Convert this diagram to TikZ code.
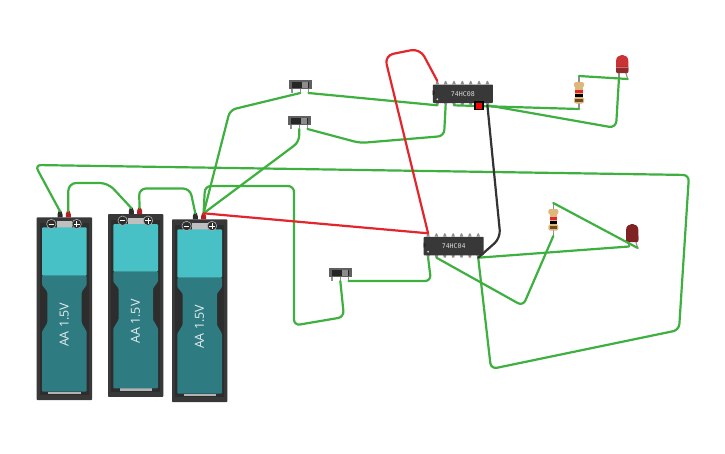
\documentclass[tikz,border=0pt]{standalone}
\usepackage{fontspec}
\setmainfont{Open Sans}
\newfontfamily\chipfont{DejaVu Sans Mono}
\definecolor{wgreen}{HTML}{3DB03F}
\definecolor{wred}{HTML}{E3262B}
\definecolor{wblack}{HTML}{333333}
\definecolor{holder}{HTML}{383838}
\definecolor{holderin}{HTML}{2D2D2D}
\definecolor{tealL}{HTML}{47C1C6}
\definecolor{tealD}{HTML}{2F7B82}
\definecolor{pingrey}{HTML}{8F8F8F}
\definecolor{resbody}{HTML}{DDB87A}
\definecolor{ledA}{HTML}{C93335}
\definecolor{ledAd}{HTML}{8E2A2C}
\definecolor{ledAr}{HTML}{D9686A}
\definecolor{ledB}{HTML}{7E2224}
\tikzset{
  wire/.style={line width=2.2pt,rounded corners=6pt,line cap=round,line join=round},
  gw/.style={wire,draw=wgreen},
  rw/.style={wire,draw=wred},
  kw/.style={wire,draw=wblack},
  chipbody/.style={draw=none,fill=holder,minimum width=60pt,minimum height=18.5pt,inner sep=0pt,rounded corners=0.8pt,text=white!85!black,font=\chipfont\fontsize{6.6}{7}\selectfont},
  lead/.style={draw=pingrey,line width=1.1pt},
  signmark/.style={draw=white!70!black,line width=0.6pt,fill=holderin},
  probe/.style={draw=black,line width=1.6pt,fill=red,minimum size=7.5pt,inner sep=0pt},
}
\newcommand{\mkbat}[4]{% name, x, y, boundary
\begin{scope}[shift={(#2,#3)}]
  \fill[holder,rounded corners=0.8pt] (0,0) rectangle (55.3,182.8);
  \fill[holderin] (3,6) rectangle (52.3,178);
  \fill[white!75!black] (20,4) rectangle (35.5,10.5);
  \fill[white!70!black] (11.5,174.4) rectangle (44,177);
  \fill[tealD,rounded corners=1pt] (5.3,#4) -- (50,#4) -- (50,67.7) -- (45,74.4) -- (45,105.7) -- (50,114.4) -- (50,174.4) -- (5.3,174.4) -- (5.3,114.4) -- (10.6,105.7) -- (10.6,74.4) -- (5.3,67.7) -- cycle;
  \fill[tealL,rounded corners=1pt] (5.3,#4) -- (5.3,10) -- (50,10) -- (50,#4) -- cycle;
  \coordinate (#1m) at (23.3,-6);
  \coordinate (#1p) at (31.6,-6);
  \fill[holderin] (20.8,-3) -- (20.8,0) -- (25.8,0) -- (25.8,-3) -- (24.6,-6.5) -- (22,-6.5) -- cycle;
  \fill[wred!80!black] (29.1,-3) -- (29.1,0) -- (34.1,0) -- (34.1,-3) -- (32.9,-6.5) -- (30.3,-6.5) -- cycle;
  \draw[signmark] (14.6,6.7) circle (4.7pt);
  \draw[white,line width=0.7pt] (11.8,6.7) -- (17.4,6.7);
  \draw[signmark] (40,6.7) circle (4.7pt);
  \draw[white,line width=0.7pt] (37.2,6.7) -- (42.8,6.7) (40,3.9) -- (40,9.5);
  \node[rotate=90,text=white!88!tealD,font=\fontsize{12.5}{13}\selectfont,inner sep=0pt] (#1lab) at (27.5,107.6) {AA 1.5V};
\end{scope}}
\newcommand{\mkchip}[4]{% name,x left,y top,label
\begin{scope}[shift={(#2,#3)}]
  \foreach \i in {0,...,6}{
    \fill[pingrey] ({4.6+8.35*\i-1.8},0) -- ({4.6+8.35*\i+1.8},0) -- ({4.6+8.35*\i+0.9},-2.6) -- ({4.6+8.35*\i},-3.6) -- ({4.6+8.35*\i-0.9},-2.6) -- cycle;
    \fill[pingrey] ({4.6+8.35*\i-1.8},18) -- ({4.6+8.35*\i+1.8},18) -- ({4.6+8.35*\i+1},21) -- ({4.6+8.35*\i-1},21) -- cycle;
    \coordinate (#1t\i) at ({4.6+8.35*\i},-3.4);
    \coordinate (#1b\i) at ({4.6+8.35*\i},21);
  }
  \node[chipbody,anchor=north west] (#1) at (0,0) {#4};
  \fill[black!85] (0,6) arc (90:-90:2.4pt) -- cycle;
  \fill[white!85!black] (4.6,15) circle (1pt);
\end{scope}}
\newcommand{\mkswitch}[3]{% name,x,y (body top-left)
\begin{scope}[shift={(#2,#3)}]
  \draw[lead] (3,8) -- (3,13) (11.3,8) -- (11.3,13) (19.5,8) -- (19.5,13);
  \node[draw=none,fill=holder!80!white,minimum width=23pt,minimum height=9pt,inner sep=0pt,anchor=north west] (#1) at (0,0) {};
  \fill[black!85] (3,1.5) rectangle (20,7.5);
  \fill[white!55!black] (12.5,1.5) rectangle (18.5,7.5);
  \coordinate (#1a) at (3,13);
  \coordinate (#1b) at (11.3,13);
  \coordinate (#1c) at (19.5,13);
\end{scope}}
\newcommand{\mkres}[3]{% name,x centre,y top of lead
\begin{scope}[shift={(#2,#3)}]
  \coordinate (#1t) at (0,0);
  \coordinate (#1e) at (0,33);
  \draw[lead] (0,0) -- (0,33);
  \fill[resbody,rounded corners=2pt] (-5,6) rectangle (5,11.5);
  \fill[resbody,rounded corners=2pt] (-5,21.5) rectangle (5,27.5);
  \fill[resbody] (-3.7,9) rectangle (3.7,24);
  \fill[wred] (-3.7,14) rectangle (3.7,16.7);
  \fill[black] (-3.7,18.2) rectangle (3.7,21.2);
  \fill[black!40!brown] (-3.7,22.8) rectangle (3.7,25.8);
\end{scope}}
\newcommand{\mkled}[6]{% name,x left,y top,main,dark,rim
\begin{scope}[shift={(#2,#3)}]
  \coordinate (#1a) at (3,22.5);
  \coordinate (#1c) at (11.7,24);
  \draw[lead] (3,15) -- (#1a);
  \draw[lead] (9,15) -- (#1c);
  \fill[#4,rounded corners=0.5pt] (0,16) -- (0,7) .. controls (0,2) and (3,0) .. (6.2,0) .. controls (9.4,0) and (12.4,2) .. (12.4,7) -- (12.4,16) -- cycle;
  \fill[#5,rounded corners=1pt] (0,11.5) rectangle (12.4,18);
  \fill[#6] (0,11.5) rectangle (12.4,13);
\end{scope}}
\begin{document}
\begin{tikzpicture}[x=1pt,y=-1pt]
\useasboundingbox (0,0) rectangle (725,453);
\fill[white] (0,0) rectangle (725,453);
\mkbat{ba}{36.7}{217.3}{58.4}
\mkbat{bb}{108}{214}{57.7}
\mkbat{bc}{172}{219.3}{58.4}
\mkchip{ua}{432.7}{84.3}{74HC08}
\mkchip{ub}{423.5}{236.7}{74HC04}
\mkswitch{sa}{289}{80}
\mkswitch{sb}{288}{116}
\mkswitch{sc}{329}{268}
\mkres{ra}{579}{76}
\mkres{rb}{553.3}{203}
\mkled{la}{616}{55}{ledA}{ledAd}{ledAr}
\mkled{lb}{626}{224}{ledB}{ledB}{ledB}
% series wiring of the cells
\draw[gw,rounded corners=6pt] (bam) -- (35,165) -- (689,175) -- (679,330) -- (491,369) -- (ubb6);
\draw[gw,rounded corners=8pt] (bap) -- (68.3,183) -- (108,183) -- (bbm);
\draw[gw,rounded corners=7pt] (bbp) -- (139,188.5) -- (190,188.5) -- (bcm);
% supply to switches
\draw[gw] (bcp) -- (230,110) -- (sab);
\draw[gw] (bcp) -- (299,142) -- (sbb);
\draw[gw] (bcp) -- (205,186) -- (294,186) -- (294,325.5) -- (344,317) -- (scb);
% switches to gates
\draw[gw] (sac) -- (uab0);
\draw[gw] (sbc) -- (360,143) -- (444,136) -- (uab1);
\draw[gw] (scc) -- (431,281) -- (ubb0);
% outputs and LEDs
\draw[gw] (uab2) -- (rae);
\draw[gw] (rat) -- (lac);
\draw[gw,rounded corners=7pt] (uab6) -- (616,128) -- (laa);
\draw[gw] (rbt) -- (lbc);
\draw[gw] (ubb6) -- (lba);
\draw[gw] (rbe) -- (523,306) -- (ubb1);
% red and black wires
\draw[rw,rounded corners=9pt] (uat0) -- (420,48.5) -- (384.5,55.5) -- (ubt0);
\draw[rw] (bcp) -- (ubt0);
\draw[kw,rounded corners=8pt] (uab6) -- (500.5,238) -- (ubb6);
\node[probe] (pr) at (479,105.7) {};
\end{tikzpicture}
\end{document}
